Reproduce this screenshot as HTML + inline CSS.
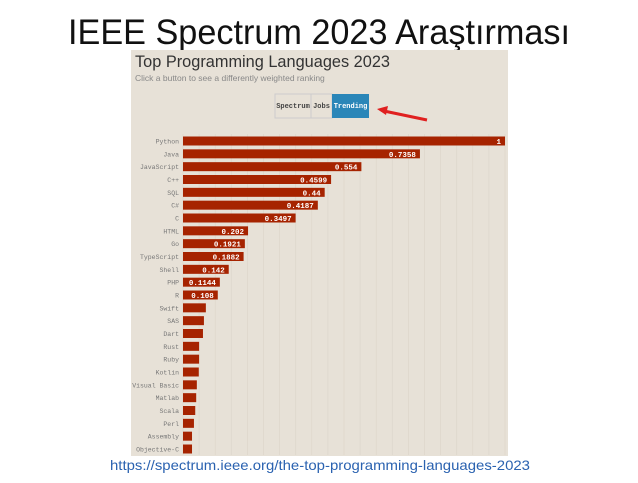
<!DOCTYPE html>
<html><head><meta charset="utf-8"><style>
body{margin:0;width:638px;height:478px;background:#fff;overflow:hidden;font-family:"Liberation Sans",sans-serif}
</style></head><body>
<svg width="638" height="478" xmlns="http://www.w3.org/2000/svg">
<text x="68" y="44" textLength="502" lengthAdjust="spacingAndGlyphs" font-family="Liberation Sans, sans-serif" font-size="35" fill="#111">IEEE Spectrum 2023 Araştırması</text>
<rect x="131" y="50" width="377" height="406" fill="#e7e1d7"/>
<text x="135" y="67" textLength="255" lengthAdjust="spacingAndGlyphs" font-size="17" fill="#333">Top Programming Languages 2023</text>
<text x="135" y="81" font-size="8.5" fill="#888">Click a button to see a differently weighted ranking</text>
<g font-family="Liberation Mono, monospace" font-size="7" font-weight="bold">
<rect x="275" y="94" width="36" height="24" fill="#e7e1d7" stroke="#ccc"/>
<text x="293" y="108" text-anchor="middle" fill="#444">Spectrum</text>
<rect x="311" y="94" width="21" height="24" fill="#e7e1d7" stroke="#ccc"/>
<text x="321.5" y="108" text-anchor="middle" fill="#444">Jobs</text>
<rect x="332" y="94" width="37" height="24" fill="#2a86b8"/>
<text x="350.5" y="108" text-anchor="middle" fill="#fff">Trending</text>
</g>
<line x1="427" y1="120" x2="384" y2="111" stroke="#e02020" stroke-width="3"/>
<polygon points="377,109 388,106 386,115" fill="#e02020"/>
<g id="grid"></g><g id="bars"></g>
<text x="110" y="470" textLength="420" lengthAdjust="spacingAndGlyphs" font-family="Liberation Sans, sans-serif" font-size="14" fill="#2a62b0">https://spectrum.ieee.org/the-top-programming-languages-2023</text>
</svg>
<script>
const categories=["Python","Java","JavaScript","C++","SQL","C#","C","HTML","Go","TypeScript","Shell","PHP","R","Swift","SAS","Dart","Rust","Ruby","Kotlin","Visual Basic","Matlab","Scala","Perl","Assembly","Objective-C"];
const values=[1,0.7358,0.554,0.4599,0.44,0.4187,0.3497,0.202,0.1921,0.1882,0.142,0.1144,0.108,0.071,0.065,0.062,0.05,0.05,0.049,0.043,0.041,0.038,0.034,0.028,0.028];
const labels=["1","0.7358","0.554","0.4599","0.44","0.4187","0.3497","0.202","0.1921","0.1882","0.142","0.1144","0.108","","","","","","","","","","","",""];
const NS="http://www.w3.org/2000/svg";
const x0=183,x1=505,y0=141,yEnd=449;
const xs=v=>x0+v*(x1-x0);
const ys=i=>y0+i*(yEnd-y0)/(categories.length-1);
const grid=document.getElementById('grid'),bars=document.getElementById('bars');
for(let k=0;k<=20;k++){const l=document.createElementNS(NS,'line');


const gx=xs(k/20);l.setAttribute('x1',gx);l.setAttribute('x2',gx);l.setAttribute('y1',134);l.setAttribute('y2',455);l.setAttribute('stroke','#ddd6cb');l.setAttribute('stroke-width','0.7');grid.appendChild(l);}
categories.forEach((c,i)=>{const y=ys(i);
const t=document.createElementNS(NS,'text');


t.setAttribute('x',179);t.setAttribute('y',y+2.5);t.setAttribute('text-anchor','end');t.setAttribute('font-family','Liberation Mono, monospace');t.setAttribute('font-size','6.5');t.setAttribute('fill','#777');t.textContent=c;bars.appendChild(t);
const r=document.createElementNS(NS,'rect');


r.setAttribute('x',x0);r.setAttribute('y',y-4.5);r.setAttribute('width',xs(values[i])-x0);r.setAttribute('height',9);r.setAttribute('fill','#a62300');bars.appendChild(r);
if(labels[i]){const v=document.createElementNS(NS,'text');


v.setAttribute('x',xs(values[i])-4);v.setAttribute('y',y+3);v.setAttribute('text-anchor','end');v.setAttribute('font-family','Liberation Mono, monospace');v.setAttribute('font-size','7.5');v.setAttribute('font-weight','bold');v.setAttribute('fill','#fff');v.textContent=labels[i];bars.appendChild(v);}
});
</script>
</body></html>
